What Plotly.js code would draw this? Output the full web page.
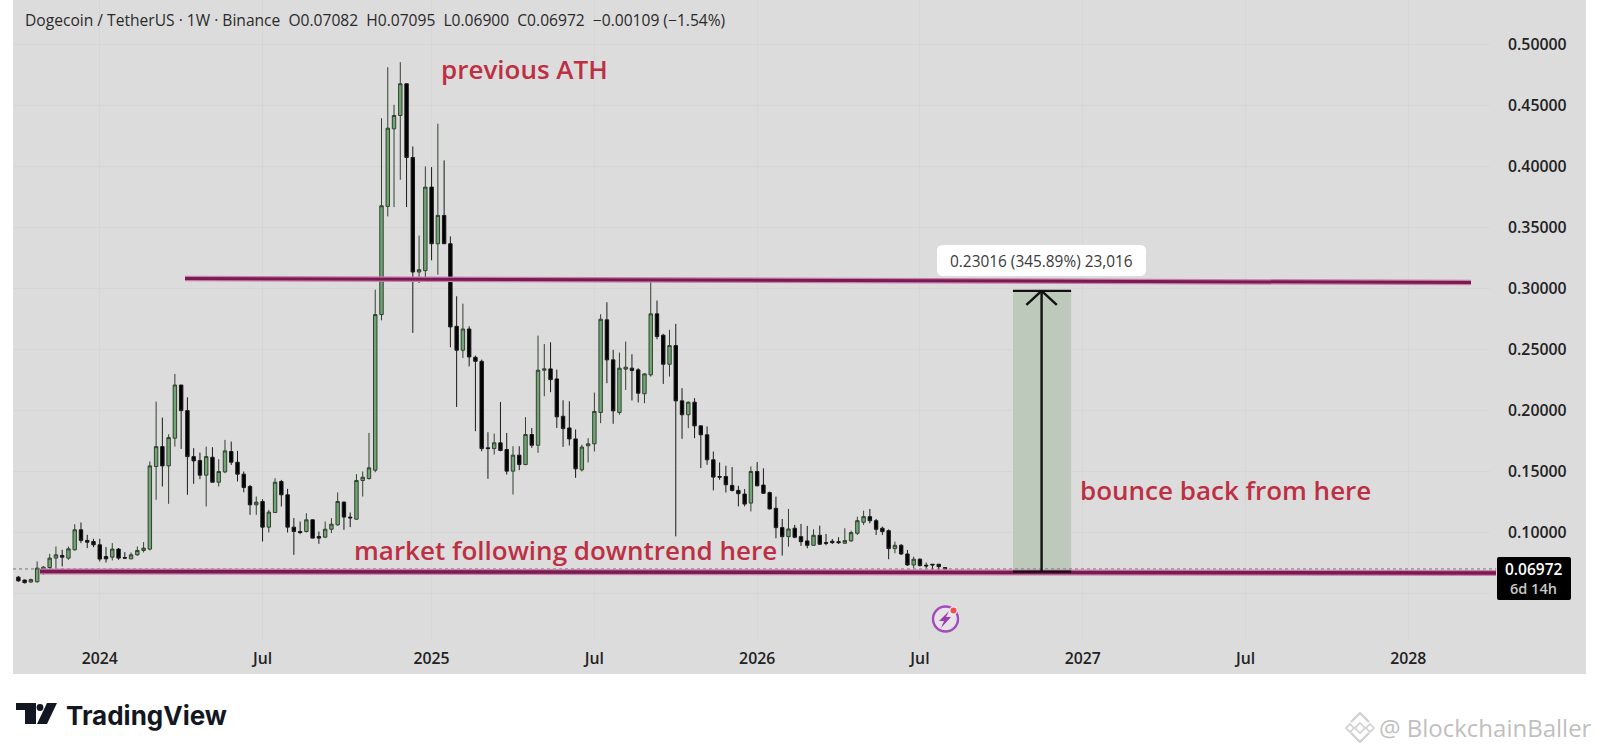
<!DOCTYPE html>
<html><head><meta charset="utf-8">
<script src="https://cdn.plot.ly/plotly-3.0.1.min.js"></script>
<style>html,body{margin:0;padding:0;background:#fff}#c{width:1600px;height:752px}</style>
</head><body><div id="c"></div>
<script>
const firstWeek = '2023-10-02';
const openPrices = [
.0630,.0606,.0590,.0592,.0677,.0709,.0786,.0808,.0786,.0854,
.1018,.0931,.0922,.0895,.0799,.0794,.0860,.0791,.0780,.0813,
.0849,.0860,.1537,.1700,.1542,.1769,.2205,.1995,.1618,.1586,
.1466,.1613,.1408,.1493,.1660,.1572,.1474,.1373,.1223,.1250,
.1040,.1160,.1414,.1305,.1040,.1004,.1004,.1100,.0963,.0958,
.1023,.1059,.1245,.1122,.1105,.1422,.1438,.1507,.2782,.3669,
.4305,.4414,.4674,.4070,.3131,.3142,.3827,.3363,.3595,.3363,
.2686,.2490,.2664,.2432,.2399,.1690,.1684,.1731,.1676,.1499,
.1630,.1553,.1799,.1711,.2326,.2337,.2255,.1949,.1853,.1763,
.1510,.1707,.1723,.1980,.2739,.2411,.1980,.2335,.2343,.2329,
.2133,.2288,.2788,.2613,.2375,.2528,.2075,.1961,.2064,.1870,
.1797,.1592,.1455,.1455,.1382,.1341,.1311,.1237,.1496,.1385,
.1323,.1194,.1036,.0962,.1031,.0962,.0927,.0891,.0973,.0913,
.0924,.0921,.0908,.0927,.0990,.1080,.1126,.1093,.1031,.1011,
.0864,.0891,.0820,.0730,.0777,.0728,.0736,.0736,.07082];
const highPrices = [
.0640,.0610,.0618,.0759,.0720,.0821,.0881,.0854,.0881,.1064,
.1078,.0977,.0944,.0944,.0876,.0909,.0868,.0835,.0832,.0881,
.0917,.1578,.2069,.1938,.1801,.2296,.2205,.2104,.1687,.1651,
.1700,.1695,.1597,.1755,.1741,.1665,.1496,.1386,.1291,.1269,
.1182,.1441,.1427,.1354,.1114,.1086,.1154,.1105,.1004,.1086,
.1114,.1324,.1250,.1160,.1474,.1496,.1812,.2986,.4392,.4810,
.4502,.4851,.4674,.4160,.3429,.3996,.3991,.4346,.4046,.3423,
.2932,.2872,.2686,.2446,.2413,.1818,.1807,.2066,.1812,.1703,
.1703,.1941,.1853,.2610,.2541,.2555,.2331,.2080,.2072,.1840,
.1715,.1769,.2143,.2785,.2883,.2493,.2471,.2561,.2457,.2343,
.2302,.3066,.2897,.2624,.2657,.2706,.2179,.2070,.2097,.1870,
.1865,.1660,.1570,.1543,.1532,.1379,.1352,.1537,.1573,.1522,
.1331,.1290,.1107,.1189,.1058,.1066,.1050,.1022,.1052,.0984,
.0943,.0957,.1031,.1011,.1126,.1175,.1189,.1107,.1044,.1022,
.0921,.0902,.0853,.0798,.0785,.0749,.0736,.0736,.07095];
const lowPrices = [
.0592,.0578,.0582,.0585,.0650,.0677,.0704,.0718,.0772,.0848,
.0909,.0868,.0876,.0759,.0750,.0767,.0772,.0778,.0778,.0805,
.0832,.0849,.1264,.1373,.1231,.1700,.1681,.1305,.1395,.1433,
.1209,.1408,.1373,.1482,.1550,.1414,.1326,.1141,.1141,.0922,
.0996,.1160,.1209,.0996,.0813,.0982,.0996,.0947,.0903,.0950,
.0991,.1051,.1018,.1040,.1100,.1291,.1430,.1490,.2735,.3587,
.3663,.3887,.3663,.2632,.3041,.3068,.3227,.3109,.3363,.2514,
.2025,.2427,.2358,.1826,.1662,.1436,.1635,.1662,.1471,.1307,
.1507,.1548,.1690,.1649,.2113,.2146,.1853,.1698,.1709,.1444,
.1496,.1570,.1660,.1892,.2220,.1887,.1961,.2165,.2078,.2062,
.2056,.2274,.2580,.2214,.2274,.0964,.1764,.1851,.1769,.1524,
.1551,.1341,.1428,.1324,.1333,.1210,.1210,.1169,.1374,.1312,
.1186,.0949,.0807,.0880,.0949,.0886,.0867,.0886,.0894,.0891,
.0902,.0902,.0902,.0921,.0976,.1058,.1071,.0976,.0976,.0777,
.0826,.0812,.0722,.0703,.0717,.0703,.0676,.0676,.06900];
const closePrices = [
.0600,.0585,.0610,.0704,.0712,.0786,.0813,.0794,.0862,.1018,
.0931,.0917,.0895,.0778,.0780,.0860,.0786,.0786,.0813,.0849,
.0868,.1542,.1700,.1542,.1774,.2205,.1995,.1618,.1583,.1466,
.1618,.1408,.1496,.1665,.1572,.1474,.1365,.1223,.1245,.1040,
.1163,.1408,.1305,.1040,.1004,.0996,.1100,.0950,.0950,.1023,
.1064,.1250,.1122,.1116,.1422,.1449,.1526,.2782,.3674,.4310,
.4414,.4674,.4070,.3131,.3150,.3827,.3363,.3595,.3363,.2681,
.2490,.2664,.2435,.2399,.1684,.1684,.1731,.1668,.1499,.1630,
.1553,.1799,.1711,.2326,.2337,.2249,.1944,.1848,.1763,.1518,
.1696,.1723,.1988,.2744,.2411,.1993,.2343,.2351,.2324,.2138,
.2296,.2788,.2602,.2375,.2528,.2075,.1961,.2064,.1870,.1797,
.1592,.1450,.1450,.1387,.1341,.1314,.1229,.1496,.1379,.1317,
.1189,.1036,.0962,.1025,.0957,.0921,.0891,.0973,.0900,.0908,
.0913,.0913,.0930,.0995,.1093,.1126,.1093,.1022,.1003,.0864,
.0891,.0820,.0730,.0777,.0725,.0722,.0730,.0716,.06972];
const xTickDates = ['2024-01-01','2024-07-01','2025-01-06','2025-07-07','2026-01-05','2026-07-06','2027-01-04','2027-07-05','2028-01-03'];
const xTickLabels = ['2024','Jul','2025','Jul','2026','Jul','2027','Jul','2028'];
const yTickValues = [0.05,0.10,0.15,0.20,0.25,0.30,0.35,0.40,0.45,0.50];
const yTickLabels = ['','0.10000','0.15000','0.20000','0.25000','0.30000','0.35000','0.40000','0.45000','0.50000'];
const lastPrice = 0.06972;
const measureLow = 0.0675, measureHigh = 0.2977, measureHead = 0.2861;

const weekDates = openPrices.map((_, i) => {
  const d = new Date(firstWeek + 'T00:00:00Z'); d.setUTCDate(d.getUTCDate() + 7 * i);
  return d.toISOString().slice(0, 10);
});

const L = 13, R = 1490, T = 0, B = 640;
const px = X => (X - L) / (R - L), py = Y => (B - Y) / (B - T);
const pt = (X, Y) => px(X).toFixed(5) + ',' + py(Y).toFixed(5);
const poly = (pts, close) => 'M' + pts.map(p => pt(p[0], p[1])).join(' L') + (close ? ' Z' : '');
const rrect = (x0, y0, x1, y1, r) => 'M' + pt(x0 + r, y0) + ' L' + pt(x1 - r, y0) + ' Q' + pt(x1, y0) + ' ' + pt(x1, y0 + r) +
  ' L' + pt(x1, y1 - r) + ' Q' + pt(x1, y1) + ' ' + pt(x1 - r, y1) + ' L' + pt(x0 + r, y1) + ' Q' + pt(x0, y1) + ' ' + pt(x0, y1 - r) +
  ' L' + pt(x0, y0 + r) + ' Q' + pt(x0, y0) + ' ' + pt(x0 + r, y0) + ' Z';
const pshape = (path, fill, line, w, layer) => ({type: 'path', xref: 'paper', yref: 'paper', path, fillcolor: fill || 'rgba(0,0,0,0)',
  line: {color: line || 'rgba(0,0,0,0)', width: w || 0}, layer: layer || 'above'});
const pline = (x0, y0, x1, y1, color, w) => ({type: 'line', xref: 'paper', yref: 'paper', x0: px(x0), y0: py(y0), x1: px(x1), y1: py(y1), line: {color, width: w}});
const circ = (cx, cy, r, fill, line, w) => ({type: 'circle', xref: 'paper', yref: 'paper', x0: px(cx - r), x1: px(cx + r), y0: py(cy - r), y1: py(cy + r), fillcolor: fill, line: {color: line, width: w}});
const dline = (x0, y0, x1, y1, color, w) => ({type: 'line', xref: 'x', yref: 'y', x0, y0, x1, y1, line: {color, width: w}});
const txt = (X, Y, text, size, color, anchor, weight, family) => ({xref: 'paper', yref: 'paper', x: px(X), y: py(Y), text, showarrow: false,
  xanchor: anchor || 'left', yanchor: 'middle', font: {family: family || '"Open Sans", sans-serif', size, color, weight: weight || 400}});

const purpleCore = '#7a1a53', purpleHalo = '#c97fa8';
const wm = '#cfcfcf';
const x0m = '2026-10-18', x1m = '2026-12-22', xm = '2026-11-19';
const shapes = [
  pshape(rrect(13, -2, 1586, 674, 0), '#dcdcdc', null, 0, 'below'),
  {type: 'rect', xref: 'x', yref: 'y', x0: x0m, x1: x1m, y0: measureLow, y1: measureHigh, fillcolor: '#bcc9bb', line: {width: 0}, layer: 'above'},
  {type: 'line', xref: 'paper', yref: 'y', x0: 0, x1: px(1496), y0: lastPrice, y1: lastPrice, line: {color: '#777', width: 1, dash: 'dot'}},
  pline(185, 278.5, 1471, 282.5, purpleHalo, 5.5),
  pline(185, 278.5, 1471, 282.5, purpleCore, 3),
  pline(40, 571.5, 1496, 573, purpleHalo, 6),
  pline(40, 571.5, 1496, 573, purpleCore, 3.4),
  dline(x0m, measureHigh, x1m, measureHigh, '#111', 2.2),
  dline(x0m, measureLow, x1m, measureLow, '#111', 2.2),
  dline(xm, measureLow, xm, measureHigh, '#111', 2.4),
  dline('2026-11-02', measureHead, xm, measureHigh, '#111', 2.4),
  dline('2026-12-06', measureHead, xm, measureHigh, '#111', 2.4),
  pshape(rrect(937, 245, 1146, 276, 6), '#ffffff'),
  pshape(rrect(1497, 557, 1571, 600, 2), '#000000'),
  circ(945.5, 619, 12.5, '#e6e2e8', '#a24dbd', 2.4),
  pshape(poly([[949, 611], [939, 621], [944, 621], [941, 628], [951, 617], [946, 617]], true), '#9a3db0'),
  circ(953.5, 610.5, 3.6, '#ef4f4f', '#f3e9ee', 1.2),
  pshape(poly([[16, 703], [36, 703], [36, 724], [25, 724], [25, 710], [16, 710]], true), '#131722'),
  circ(40, 707.5, 3.4, '#131722', '#131722', 0),
  pshape(poly([[47, 703], [57, 703], [47, 724], [37, 724]], true), '#131722'),
  pshape(poly([[1351, 722], [1360, 713], [1369, 722]]), null, wm, 2.2),
  pshape(poly([[1351, 733], [1360, 742], [1369, 733]]), null, wm, 2.2),
  pshape(poly([[1350, 724], [1354, 728], [1350, 732], [1346, 728]], true), null, wm, 1.6),
  pshape(poly([[1370, 724], [1374, 728], [1370, 732], [1366, 728]], true), null, wm, 1.6),
  pshape(poly([[1360, 723], [1365, 728], [1360, 733], [1355, 728]], true), null, wm, 1.6),
];

const annotations = [
  txt(22.5, 19.5, 'Dogecoin / TetherUS · 1W · Binance&nbsp;&nbsp;O0.07082&nbsp;&nbsp;H0.07095&nbsp;&nbsp;L0.06900&nbsp;&nbsp;C0.06972&nbsp;&nbsp;−0.00109 (−1.54%)', 15.6, '#2a2a2a', 'left', 500),
  txt(439, 69, 'previous ATH', 26, '#bd3044', 'left', 600),
  txt(352, 550, 'market following downtrend here', 26, '#bd3044', 'left', 600),
  txt(1078, 490, 'bounce back from here', 26, '#bd3044', 'left', 600),
  txt(1041.5, 261, '0.23016 (345.89%) 23,016', 15.4, '#3a3a3a', 'center', 500),
  txt(1534, 569, '0.06972', 15.5, '#ffffff', 'center', 600),
  txt(1534, 588, '6d 14h', 14.5, '#c8c8c8', 'center', 600),
  txt(64, 715, 'TradingView', 26, '#131722', 'left', 700, 'Inter, sans-serif'),
  txt(1377, 727, '@ BlockchainBaller', 24, '#bfbfbf', 'left', 400),
];

const trace = {
  type: 'candlestick', x: weekDates, open: openPrices, high: highPrices, low: lowPrices, close: closePrices,
  increasing: {line: {color: '#33402f', width: 1}, fillcolor: '#6fa674'},
  decreasing: {line: {color: '#1a1a1a', width: 1}, fillcolor: '#000000'},
  whiskerwidth: 0, hoverinfo: 'skip'
};
const tickFont = {family: '"Open Sans", sans-serif', size: 15.8, color: '#222', weight: 600};
const layout = {
  width: 1600, height: 752, showlegend: false, paper_bgcolor: '#ffffff', plot_bgcolor: 'rgba(0,0,0,0)',
  margin: {l: L, r: 1600 - R, t: T, b: 752 - B, pad: 0}, boxgap: 0.22,
  xaxis: {type: 'date', range: ['2023-09-26 00:00', '2028-04-03 08:00'], rangeslider: {visible: false}, tickmode: 'array', tickvals: xTickDates, ticktext: xTickLabels,
    showgrid: true, gridcolor: '#d6d6d6', gridwidth: 1, zeroline: false, showline: false, ticks: '', ticklen: 0, ticklabelstandoff: 7, tickfont: tickFont},
  yaxis: {side: 'right', range: [0.01148, 0.53607], tickmode: 'array', tickvals: yTickValues, ticktext: yTickLabels,
    showgrid: true, gridcolor: '#d6d6d6', gridwidth: 1, zeroline: false, showline: false, ticks: '', ticklabelstandoff: 17, tickfont: tickFont},
  shapes, annotations
};
Plotly.newPlot('c', [trace], layout, {displayModeBar: false, staticPlot: true});
</script></body></html>
